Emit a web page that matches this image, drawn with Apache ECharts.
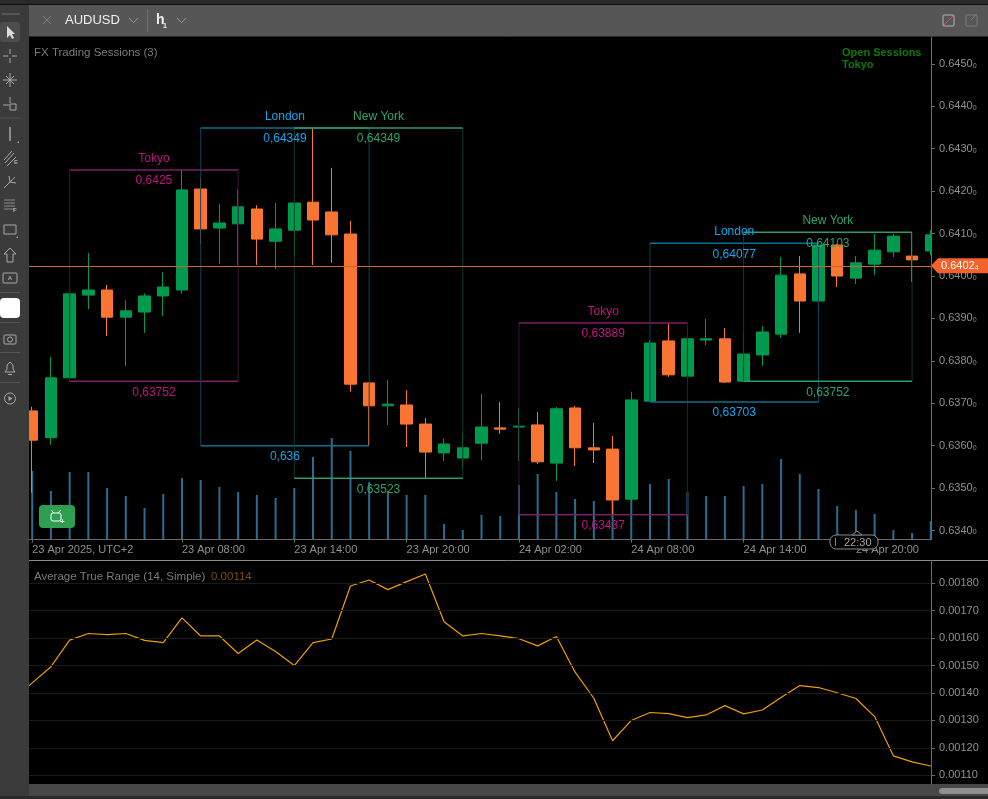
<!DOCTYPE html>
<html lang="en">
<head>
<meta charset="UTF-8">
<title>AUDUSD h1</title>
<script src="https://cdn.jsdelivr.net/npm/echarts@6/dist/echarts.min.js"></script>
<style>
  html, body { margin: 0; padding: 0; background: #000; overflow: hidden; }
  #chart { width: 988px; height: 799px; }
</style>
</head>
<body>
<div id="chart"></div>
<script>
// candles, one per hour, 23 Apr 00:00 is index 0
var opens = [0.63682,0.63619,0.63760,0.63955,0.63967,0.63903,0.63915,0.63953,0.63967,0.64205,0.64113,0.64123,0.64158,0.64082,0.64108,0.64174,0.64151,0.64099,0.63748,0.63694,0.63696,0.63651,0.63583,0.63571,0.63606,0.63642,0.63644,0.63649,0.63559,0.63689,0.63595,0.63592,0.63474,0.63705,0.63847,0.63764,0.63849,0.63852,0.63752,0.63814,0.63863,0.64005,0.63941,0.64073,0.63995,0.64028,0.64057,0.64047,0.64059];
var closes = [0.63613,0.63760,0.63958,0.63967,0.63903,0.63918,0.63953,0.63974,0.64203,0.64111,0.64125,0.64163,0.64087,0.64111,0.64172,0.64132,0.64097,0.63745,0.63694,0.63698,0.63651,0.63585,0.63604,0.63595,0.63644,0.63639,0.63646,0.63562,0.63687,0.63595,0.63590,0.63472,0.63708,0.63842,0.63767,0.63852,0.63852,0.63750,0.63816,0.63868,0.64002,0.63941,0.64073,0.64000,0.64031,0.64061,0.64094,0.64038,0.64097];
var lows = [0.63489,0.63602,0.63752,0.63922,0.63859,0.63788,0.63866,0.63906,0.63958,0.64075,0.64028,0.64026,0.64026,0.64016,0.64045,0.64026,0.64031,0.63727,0.63600,0.63649,0.63597,0.63523,0.63564,0.63547,0.63566,0.63628,0.63564,0.63557,0.63517,0.63552,0.63559,0.63437,0.63470,0.63703,0.63762,0.63753,0.63837,0.63748,0.63752,0.63788,0.63854,0.63866,0.63913,0.63974,0.63981,0.64002,0.64045,0.63986,0.64049];
var highs = [0.63692,0.63809,0.63965,0.64054,0.63979,0.63943,0.63959,0.64009,0.64250,0.64231,0.64170,0.64205,0.64167,0.64172,0.64174,0.64349,0.64255,0.64130,0.63750,0.63755,0.63731,0.63665,0.63616,0.63630,0.63722,0.63703,0.63689,0.63679,0.63691,0.63694,0.63654,0.63623,0.63727,0.63849,0.63889,0.63875,0.63899,0.63877,0.63866,0.63882,0.64045,0.64047,0.64077,0.64075,0.64047,0.64099,0.64099,0.64103,0.64108];
var volumes = [685,485,675,675,515,435,315,455,615,595,525,475,445,415,515,825,1015,885,575,485,445,445,155,95,245,235,545,655,475,405,385,745,595,555,605,475,435,435,535,555,805,655,505,335,295,255,95,65,185];
var lastPrice = 0.64024;

// ATR starts one hour before the first candle
var atrValues = [0.001377,0.001437,0.001496,0.001593,0.001617,0.001613,0.001617,0.001592,0.001584,0.001674,0.001608,0.001608,0.001544,0.001593,0.001551,0.001500,0.001584,0.001597,0.001790,0.001812,0.001777,0.001806,0.001834,0.001660,0.001608,0.001617,0.001608,0.001598,0.001572,0.001606,0.001476,0.001381,0.001226,0.001300,0.001329,0.001325,0.001310,0.001320,0.001354,0.001324,0.001338,0.001384,0.001427,0.001420,0.001401,0.001380,0.001314,0.001171,0.001149,0.001134];

var priceTicks = [0.634,0.635,0.636,0.637,0.638,0.639,0.640,0.641,0.642,0.643,0.644,0.645];
var atrTicks = [0.0011,0.0012,0.0013,0.0014,0.0015,0.0016,0.0017,0.0018];
var timeTicks = [0,8,14,20,26,32,38,44];
var timeLabels = ['23 Apr 2025, UTC+2','23 Apr 08:00','23 Apr 14:00','23 Apr 20:00','24 Apr 02:00','24 Apr 08:00','24 Apr 14:00','24 Apr 20:00'];

// FX sessions
var sessionNames = ['Tokyo','London','New York','Tokyo','London','New York'];
var sessionStart = [2,9,14,26,33,38];
var sessionEnd = [11,18,23,35,42,47];
var sessionHigh = [0.6425,0.64349,0.64349,0.63889,0.64077,0.64103];
var sessionLow = [0.63752,0.636,0.63523,0.63437,0.63703,0.63752];

var FONT = 'Liberation Sans';
var GREEN = '#009a4e', ORANGE = '#f97531';
var sessionColors = {
  'Tokyo': { text: '#c0147f', edge: '#7b2064', side: '#3b1533' },
  'London': { text: '#12a6ec', edge: '#0f6f92', side: '#0f4257' },
  'New York': { text: '#2ea468', edge: '#2e9a6c', side: '#143a28' }
};

var candleData = opens.map(function (o, i) { return [i, o, closes[i], lows[i], highs[i]]; });
var volumeData = volumes.map(function (v, i) { return [i, v]; });
var atrData = atrValues.map(function (v, i) { return [i - 1, v]; });
var sessionData = sessionNames.map(function (n, i) { return [sessionStart[i], sessionEnd[i], sessionHigh[i], sessionLow[i], i]; });

function renderSession(params, api) {
  var idx = api.value(4);
  var c = sessionColors[sessionNames[idx]];
  var tl = api.coord([api.value(0), api.value(2)]);
  var br = api.coord([api.value(1), api.value(3)]);
  var mid = (tl[0] + br[0]) / 2;
  function seg(x1, y1, x2, y2, color, w) {
    return { type: 'line', shape: { x1: x1, y1: y1, x2: x2, y2: y2 }, style: { stroke: color, lineWidth: w } };
  }
  function txt(s, y) {
    return { type: 'text', z2: 10, style: { text: s, x: mid, y: y, fill: c.text, font: '12px "' + FONT + '"', align: 'center', verticalAlign: 'middle' } };
  }
  return {
    type: 'group',
    children: [
      seg(tl[0], tl[1], tl[0], br[1], c.side, 1),
      seg(br[0], tl[1], br[0], br[1], c.side, 1),
      seg(tl[0], tl[1], br[0], tl[1], c.edge, 1.5),
      seg(tl[0], br[1], br[0], br[1], c.edge, 1.5),
      txt(sessionNames[idx], tl[1] - 11.5),
      txt(String(api.value(2)).replace('.', ','), tl[1] + 11),
      txt(String(api.value(3)).replace('.', ','), br[1] + 11)
    ]
  };
}

// window chrome, all drawn as graphics
var chrome = [];
function box(x, y, w, h, fill, r, z) {
  chrome.push({ type: 'rect', z: z || 3, silent: true, shape: { x: x, y: y, width: w, height: h, r: r || 0 }, style: { fill: fill } });
}
function frame(x, y, w, h, stroke, r) {
  chrome.push({ type: 'rect', z: 7, silent: true, shape: { x: x, y: y, width: w, height: h, r: r || 0 }, style: { fill: 'none', stroke: stroke, lineWidth: 1 } });
}
function ln(x1, y1, x2, y2, color, w, z) {
  chrome.push({ type: 'line', z: z || 7, silent: true, shape: { x1: x1, y1: y1, x2: x2, y2: y2 }, style: { stroke: color, lineWidth: w || 1 } });
}
function poly(points, color, w) {
  chrome.push({ type: 'polyline', z: 7, silent: true, shape: { points: points }, style: { stroke: color, lineWidth: w || 1, fill: 'none' } });
}
function fillPoly(points, fill, stroke, z) {
  chrome.push({ type: 'polygon', z: z || 7, silent: true, shape: { points: points }, style: { fill: fill, stroke: stroke || 'none', lineWidth: 1 } });
}
function label(s, x, y, color, font, align, z) {
  chrome.push({ type: 'text', z: z || 7, silent: true, style: { text: s, x: x, y: y, fill: color, font: font, align: align || 'left', verticalAlign: 'middle' } });
}
function dot(x, y, r, stroke) {
  chrome.push({ type: 'circle', z: 7, silent: true, shape: { cx: x, cy: y, r: r }, style: { fill: 'none', stroke: stroke, lineWidth: 1 } });
}

box(0, 0, 988, 5, '#2a2a2a');
ln(0, 4.5, 988, 4.5, '#0c0c0c', 1);
box(0, 5, 29, 794, '#3b3b3b');
box(29, 5, 959, 32, '#565656');
ln(29, 36.5, 988, 36.5, '#2b2b2b', 1);
box(29, 784, 959, 12, '#474747');
box(0, 796, 988, 3, '#2a2a2a');
ln(29, 560.5, 988, 560.5, '#8a8a8a', 1);
box(939, 788, 51, 6, '#8f8f8f', 3, 5);
// keeps the half candle at the right edge inside the plot
box(931.5, 37, 10, 503, '#000000');

// top bar
ln(43, 16, 51, 24, '#7f7f7f', 1);
ln(51, 16, 43, 24, '#7f7f7f', 1);
label('AUDUSD', 65, 20.5, '#f0f0f0', '13px "' + FONT + '"');
poly([[129, 18], [133.5, 22.5], [138, 18]], '#9a9a9a', 1);
ln(147.5, 9, 147.5, 32, '#6f6f6f', 1);
label('h', 156, 20.5, '#f0f0f0', 'bold 14px "' + FONT + '"');
label('1', 163, 26, '#f0f0f0', 'bold 7px "' + FONT + '"');
poly([[177, 18], [181.5, 22.5], [186, 18]], '#9a9a9a', 1);
frame(943, 15, 11, 11, '#b5b5b5', 1);
ln(944, 25, 953, 16, '#d8505a', 1);
frame(966, 15, 11, 11, '#7c7c7c', 1);
ln(971, 20, 977, 14, '#7c7c7c', 1);

// left toolbar
box(2, 13, 18, 2, '#555555', 0, 5);
box(0, 22, 20, 20, '#4c4c4c', 3, 5);
fillPoly([[7, 26], [7, 38], [10, 35], [12, 39], [14, 38], [12, 34], [15, 34]], '#dcdcdc');
var toolColor = '#a8a8a8';
[[3, 56, 8, 56], [12, 56, 17, 56], [10, 49, 10, 54], [10, 58, 10, 63]].forEach(function (s) { ln(s[0], s[1], s[2], s[3], toolColor, 1); });
[[3, 80, 17, 80], [10, 73, 10, 87], [6, 76, 14, 84], [14, 76, 6, 84]].forEach(function (s) { ln(s[0], s[1], s[2], s[3], toolColor, 1); });
ln(3, 105, 9, 105, toolColor, 1);
ln(10, 97, 10, 103, toolColor, 1);
frame(10, 104, 6, 6, toolColor);
ln(20.5, 118, 0, 118, '#555555', 1);
ln(10, 127, 10, 141, toolColor, 1.5);
fillPoly([[19, 141], [19, 143], [17, 143]], toolColor);
[[4, 160, 12, 151], [5, 163, 14, 153], [7, 166, 16, 157]].forEach(function (s) { ln(s[0], s[1], s[2], s[3], toolColor, 1); });
label('E', 14, 162, toolColor, 'bold 6px "' + FONT + '"');
[[4, 188, 10, 182], [10, 182, 15, 177], [10, 182, 16, 183], [10, 182, 9, 176]].forEach(function (s) { ln(s[0], s[1], s[2], s[3], toolColor, 1); });
[0, 1, 2, 3].forEach(function (r) {
  ln(4, 200 + r * 3, 15, 200 + r * 3, '#8a8a8a', 1);
});
label('F', 13, 210, toolColor, 'bold 6px "' + FONT + '"');
frame(4, 225, 12, 9, toolColor);
fillPoly([[18, 236], [18, 238], [16, 238]], toolColor);
poly([[10, 248], [16, 254], [13, 254], [13, 262], [7, 262], [7, 254], [4, 254], [10, 248]], toolColor, 1);
frame(3, 273, 14, 10, toolColor, 1);
label('A', 10, 278.5, toolColor, 'bold 6px "' + FONT + '"', 'center');
ln(0, 292.5, 20, 292.5, '#555555', 1);
box(0, 298, 20, 20, '#ffffff', 4, 5);
ln(0, 322.5, 20, 322.5, '#555555', 1);
frame(4, 335, 12, 9, toolColor, 1);
dot(10, 339.5, 2.5, toolColor);
ln(0, 352.5, 20, 352.5, '#555555', 1);
poly([[5, 372], [7, 369], [7, 365], [10, 362], [13, 365], [13, 369], [15, 372], [5, 372]], toolColor, 1);
ln(8, 374.5, 12, 374.5, toolColor, 1);
ln(0, 382.5, 20, 382.5, '#555555', 1);
dot(10, 398.5, 5.5, toolColor);
fillPoly([[8.5, 396], [8.5, 401], [12.5, 398.5]], toolColor);

// bot button
box(39, 505, 36, 23, '#2f9e50', 4, 6);
frame(51, 513, 10, 8, '#ffffff', 2);
ln(51.5, 510, 53.5, 513, '#ffffff', 1);
ln(60.5, 510, 58.5, 513, '#ffffff', 1);
label('+', 60, 522, '#ffffff', 'bold 8px "' + FONT + '"', 'left');

// pane titles
label('FX Trading Sessions (3)', 34, 52.5, '#7a7a7a', '11.5px "' + FONT + '"');
label('Open Sessions', 842, 52.5, '#0b7a0b', 'bold 11px "' + FONT + '"');
label('Tokyo', 842, 64.5, '#0b7a0b', 'bold 11px "' + FONT + '"');
label('Average True Range (14, Simple)', 34, 576.5, '#7a7a7a', '11.5px "' + FONT + '"');
label('0.00114', 211, 576.5, '#7a4e0c', '11.5px "' + FONT + '"');

// clock pill on the time axis
fillPoly([[852, 535], [857, 531], [862, 535]], '#000000', '#8a8a8a', 50);
chrome.push({ type: 'rect', z: 49, silent: true, shape: { x: 830, y: 535, width: 48, height: 14, r: 6 }, style: { fill: '#000000', stroke: '#8a8a8a', lineWidth: 1 } });
ln(835.5, 538, 835.5, 546, '#8a8a8a', 1, 50);
label('22:30', 844, 542.5, '#a5a5a5', '11px "' + FONT + '"', 'left', 50);

var chart = echarts.init(document.getElementById('chart'));
var option = {
  backgroundColor: '#000000',
  animation: false,
  grid: [
    { left: 29, top: 37, width: 902, height: 502.5 },
    { left: 29, top: 561, width: 902, height: 223 }
  ],
  xAxis: [
    {
      type: 'value', gridIndex: 0, min: -0.171, max: 48.01, z: 10, splitLine: { show: false },
      axisLine: { onZero: false, lineStyle: { color: '#6a6a6a' } },
      axisTick: { customValues: timeTicks, length: 3, lineStyle: { color: '#6a6a6a' } },
      axisLabel: {
        customValues: timeTicks, align: 'left', margin: 5, color: '#8f8f8f', fontFamily: FONT, fontSize: 11,
        formatter: function (v) { return timeLabels[timeTicks.indexOf(v)]; }
      }
    },
    { type: 'value', gridIndex: 1, min: -0.171, max: 48.01, show: false, splitLine: { show: false } }
  ],
  yAxis: [
    {
      type: 'value', gridIndex: 0, position: 'right', min: 0.633789, max: 0.645634, z: 10, splitLine: { show: false },
      axisLine: { show: true, onZero: false, lineStyle: { color: '#6a6a6a' } },
      axisTick: { show: true, customValues: priceTicks, length: 4, lineStyle: { color: '#6a6a6a' } },
      axisLabel: {
        customValues: priceTicks, margin: 8, color: '#8f8f8f', fontFamily: FONT, fontSize: 11,
        formatter: function (v) { return '{a|' + v.toFixed(4) + '}{b|0}'; },
        rich: { a: { color: '#8f8f8f', fontFamily: FONT, fontSize: 11 }, b: { color: '#8f8f8f', fontFamily: FONT, fontSize: 7, verticalAlign: 'bottom' } }
      }
    },
    { type: 'value', gridIndex: 0, min: 0, max: 5025, show: false, splitLine: { show: false } },
    {
      type: 'value', gridIndex: 1, position: 'right', min: 0.0010683, max: 0.0018813, z: 10,
      splitLine: { show: true, lineStyle: { color: '#191919' } },
      axisLine: { show: true, onZero: false, lineStyle: { color: '#6a6a6a' } },
      axisTick: { show: true, customValues: atrTicks, length: 4, lineStyle: { color: '#6a6a6a' } },
      axisLabel: {
        customValues: atrTicks, margin: 8, color: '#8f8f8f', fontFamily: FONT, fontSize: 11,
        formatter: function (v) { return v.toFixed(5); }
      }
    }
  ],
  series: [
    {
      name: 'Volume', type: 'bar', xAxisIndex: 0, yAxisIndex: 1, barWidth: 2, data: volumeData, z: 1,
      itemStyle: { color: '#2a6d8e' }
    },
    {
      name: 'AUDUSD', type: 'candlestick', xAxisIndex: 0, yAxisIndex: 0, barWidth: 12, z: 2,
      encode: { x: 0, y: [1, 2, 3, 4] }, data: candleData,
      itemStyle: { color: GREEN, color0: ORANGE, borderColor: GREEN, borderColor0: ORANGE, borderColorDoji: ORANGE, borderWidth: 1 },
      markLine: {
        silent: true, symbol: 'none', animation: false, precision: 5, z: 6, label: { show: false },
        lineStyle: { color: '#c9662f', width: 1, type: 'solid' },
        data: [{ yAxis: lastPrice }]
      }
    },
    {
      name: 'FX Trading Sessions', type: 'custom', xAxisIndex: 0, yAxisIndex: 0, z: 5, clip: true,
      encode: { x: [0, 1], y: [2, 3] }, data: sessionData, renderItem: renderSession
    },
    {
      name: 'ATR', type: 'line', xAxisIndex: 1, yAxisIndex: 2, symbol: 'none', data: atrData, z: 2,
      lineStyle: { color: '#eb9f00', width: 1.2 }
    }
  ],
  graphic: { elements: chrome }
};
chart.setOption(option);

// last price tag follows the price scale
var tagY = chart.convertToPixel({ yAxisIndex: 0 }, lastPrice);
chrome.push({ type: 'polygon', z: 40, silent: true, shape: { points: [[931, tagY], [938, tagY - 7.5], [988, tagY - 7.5], [988, tagY + 7.5], [938, tagY + 7.5]] }, style: { fill: '#f4622c' } });
chrome.push({ type: 'text', z: 41, silent: true, style: { rich: { a: { fill: '#ffffff', font: '11px "' + FONT + '"' }, b: { fill: '#ffffff', font: '7px "' + FONT + '"', verticalAlign: 'bottom' } }, text: '{a|' + lastPrice.toFixed(4) + '}{b|4}', x: 941, y: tagY + 0.5, verticalAlign: 'middle' } });
chart.setOption({ graphic: { elements: chrome } });
</script>
</body>
</html>
